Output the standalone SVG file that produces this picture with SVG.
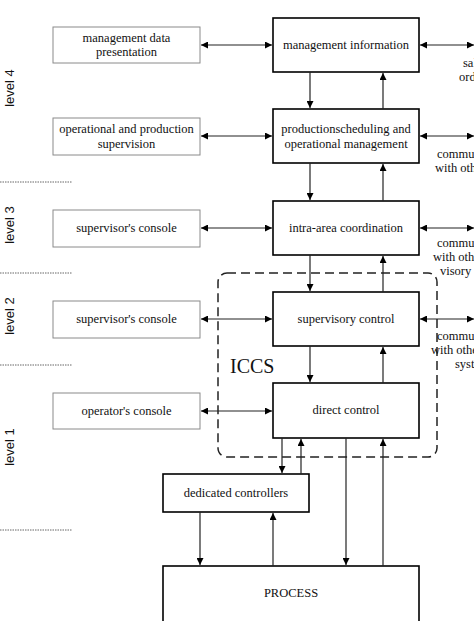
<svg xmlns="http://www.w3.org/2000/svg" width="474" height="621" viewBox="0 0 474 621">
<defs>
<marker id="ah" viewBox="0 0 10 10" refX="10" refY="5" markerWidth="9" markerHeight="7" markerUnits="userSpaceOnUse" orient="auto-start-reverse"><path d="M0,0 L10,5 L0,10 Z" fill="#000"/></marker>
</defs>
<style>
.lb{fill:#fff;stroke:#8a8a8a;stroke-width:1}
.cb{fill:#fff;stroke:#000;stroke-width:1.6}
.t{font-family:"Liberation Serif",serif;font-size:12.5px;fill:#111;text-anchor:middle}
.r{font-family:"Liberation Serif",serif;font-size:12.5px;fill:#111}
.lv{font-family:"Liberation Sans",sans-serif;font-size:13px;fill:#111;text-anchor:middle}
.c line{stroke:#222;stroke-width:1.2}
.a{marker-end:url(#ah)}
.b{marker-start:url(#ah);marker-end:url(#ah)}
.dot{stroke:#666;stroke-width:1;stroke-dasharray:1.5,1}
</style>
<rect width="474" height="621" fill="#fff"/>
<g id="levels">
<text class="lv" transform="translate(14,88) rotate(-90)">level 4</text>
<text class="lv" transform="translate(14,225) rotate(-90)">level 3</text>
<text class="lv" transform="translate(14,316) rotate(-90)">level 2</text>
<text class="lv" transform="translate(14,447) rotate(-90)">level 1</text>
<line class="dot" x1="0" y1="182" x2="72" y2="182"/>
<line class="dot" x1="0" y1="273" x2="72" y2="273"/>
<line class="dot" x1="0" y1="365" x2="72" y2="365"/>
<line class="dot" x1="0" y1="530" x2="72" y2="530"/>
</g>
<g id="iccs">
<rect x="218" y="273" width="219" height="184" rx="9" fill="none" stroke="#222" stroke-width="1.5" stroke-dasharray="9,5"/>
<text x="230" y="373" font-family="Liberation Serif,serif" font-size="20" fill="#111">ICCS</text>
</g>
<g id="mdp"><rect class="lb" x="53" y="27" width="147" height="36"/><text class="t" x="126.5" y="42">management data</text><text class="t" x="126.5" y="56">presentation</text></g>
<g id="ops"><rect class="lb" x="53" y="118" width="147" height="37"/><text class="t" x="126.5" y="133">operational and production</text><text class="t" x="126.5" y="148">supervision</text></g>
<g id="sc3"><rect class="lb" x="53" y="210" width="147" height="37"/><text class="t" x="126.5" y="232">supervisor's console</text></g>
<g id="sc2"><rect class="lb" x="53" y="301" width="147" height="37"/><text class="t" x="126.5" y="323">supervisor's console</text></g>
<g id="opc"><rect class="lb" x="53" y="393" width="147" height="36"/><text class="t" x="126.5" y="415">operator's console</text></g>
<g id="mi"><rect class="cb" x="273" y="18" width="146" height="54"/><text class="t" x="346" y="49">management information</text></g>
<g id="ps"><rect class="cb" x="273" y="109" width="146" height="54"/><text class="t" x="346" y="133">productionscheduling and</text><text class="t" x="346" y="148">operational management</text></g>
<g id="ia"><rect class="cb" x="273" y="201" width="146" height="54"/><text class="t" x="346" y="232">intra-area coordination</text></g>
<g id="sv"><rect class="cb" x="273" y="292" width="146" height="54"/><text class="t" x="346" y="323">supervisory control</text></g>
<g id="dc"><rect class="cb" x="273" y="383" width="146" height="55"/><text class="t" x="346" y="414">direct control</text></g>
<g id="ded"><rect class="cb" x="163" y="474" width="146" height="38"/><text class="t" x="236" y="497">dedicated controllers</text></g>
<g id="proc"><rect class="cb" x="163" y="566" width="256" height="70"/><text class="t" x="291" y="597">PROCESS</text></g>
<g id="ext">
<text class="r" x="463" y="67">sales</text><text class="r" x="459" y="81">orders</text>
<text class="r" x="437" y="158">communication</text><text class="r" x="435" y="172">with other</text>
<text class="r" x="437" y="247">communication</text><text class="r" x="433" y="261">with other</text><text class="r" x="440" y="275">visory</text>
<text class="r" x="437" y="340">communication</text><text class="r" x="431" y="354">with other</text><text class="r" x="455" y="368">systems</text>
</g>
<g id="connectors" class="c">
<line class="b" x1="201" y1="45" x2="272" y2="45"/>
<line class="b" x1="201" y1="136" x2="272" y2="136"/>
<line class="b" x1="201" y1="228" x2="272" y2="228"/>
<line class="b" x1="201" y1="319" x2="272" y2="319"/>
<line class="b" x1="201" y1="411" x2="272" y2="411"/>
<line class="b" x1="420" y1="45" x2="474" y2="45"/>
<line class="b" x1="420" y1="136" x2="474" y2="136"/>
<line class="b" x1="420" y1="228" x2="474" y2="228"/>
<line class="b" x1="420" y1="319" x2="474" y2="319"/>
<line class="a" x1="310" y1="72" x2="310" y2="108"/>
<line class="a" x1="383" y1="109" x2="383" y2="73"/>
<line class="a" x1="310" y1="163" x2="310" y2="200"/>
<line class="a" x1="383" y1="201" x2="383" y2="164"/>
<line class="a" x1="310" y1="255" x2="310" y2="291"/>
<line class="a" x1="383" y1="292" x2="383" y2="256"/>
<line class="a" x1="310" y1="346" x2="310" y2="382"/>
<line class="a" x1="383" y1="383" x2="383" y2="347"/>
<line class="a" x1="282" y1="438" x2="282" y2="473"/>
<line class="a" x1="301" y1="474" x2="301" y2="439"/>
<line class="a" x1="200" y1="512" x2="200" y2="565"/>
<line class="a" x1="273" y1="566" x2="273" y2="513"/>
<line class="a" x1="346" y1="438" x2="346" y2="565"/>
<line class="a" x1="383" y1="566" x2="383" y2="439"/>
</g>
</svg>
